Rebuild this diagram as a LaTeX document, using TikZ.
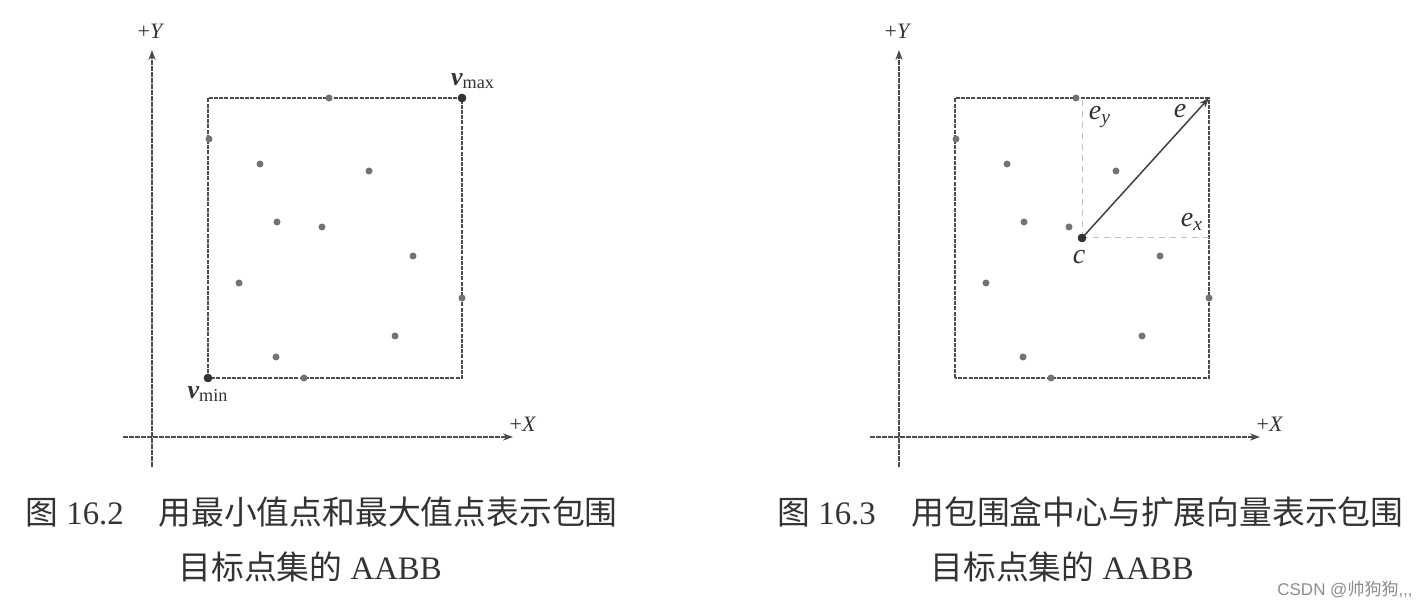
\documentclass[tikz,border=0pt]{standalone}
\usepackage{fontspec}
\setmainfont{Liberation Serif}
\newfontfamily\cjk{Noto Sans CJK SC}
\newfontfamily\marksans{Liberation Sans}
\usetikzlibrary{arrows.meta}
\begin{document}
\begin{tikzpicture}[x=0.5pt, y=0.5pt, >={Stealth[length=5pt, width=3.6pt]},
	dot/.style={circle, fill=black!55, inner sep=0pt, minimum size=3.5pt},
	corner/.style={circle, fill=black!80, inner sep=0pt, minimum size=4.2pt},
	axis/.style={draw=black!70, line width=0.65pt, dash pattern=on 2.5pt off 0.5pt, ->},
	box/.style={draw=black!70, line width=0.75pt, dash pattern=on 2pt off 0.6pt},
	helper/.style={draw=black!25, line width=0.5pt, dash pattern=on 3pt off 2.5pt},
	axlabel/.style={font=\fontsize{11}{11}\selectfont, text=black!80},
	veclabel/.style={font=\fontsize{14}{14}\selectfont\itshape, text=black!80},
	caption/.style={font=\fontsize{16.4}{16.4}\selectfont, text=black!80, anchor=base west, inner sep=0pt}]
	
	\useasboundingbox (0,0) rectangle (1427,608);
	
	% Left figure: min and max points
	\begin{scope}[shift={(152,171)}]
		\coordinate (xsL) at (-29,0);
		\coordinate (xeL) at (361,0);
		\coordinate (ysL) at (0,-30);
		\coordinate (yeL) at (0,387);
		\draw[axis] (xsL) -- (xeL);
		\draw[axis] (ysL) -- (yeL);
		\node[axlabel] (xlabL) at (371,13) {+\textit{X}};
		\node[axlabel] (ylabL) at (-1,406) {+\textit{Y}};
		
		% Bounding box
		\node[corner] (vmin) at (56,59) {};
		\node[corner] (vmax) at (310,339) {};
		\draw[box] (vmin.center) rectangle (vmax.center);
		
		% Point set
		\foreach \x/\y [count=\i] in {177/339, 57/298, 108/273, 217/266, 125/215, 170/210, 261/181, 87/154, 310/139, 243/101, 124/80, 152/59}
		\node[dot] (ptL\i) at (\x,\y) {};
		\node[corner] at (vmin) {};
		\node[corner] at (vmax) {};
		
		% Labels
		\node[font=\fontsize{13}{13}\selectfont, text=black!80] (vmaxlab) at (321,356) {\bfseries\itshape v\textsubscript{\normalfont max}};
		\node[font=\fontsize{13}{13}\selectfont, text=black!80] (vminlab) at (56,43) {\bfseries\itshape v\textsubscript{\normalfont min}};
	\end{scope}
	
	% Right figure: centre and extent vector
	\begin{scope}[shift={(899,171)}]
		\coordinate (xsR) at (-29,0);
		\coordinate (xeR) at (361,0);
		\coordinate (ysR) at (0,-30);
		\coordinate (yeR) at (0,387);
		\draw[axis] (xsR) -- (xeR);
		\draw[axis] (ysR) -- (yeR);
		\node[axlabel] (xlabR) at (371,13) {+\textit{X}};
		\node[axlabel] (ylabR) at (-1,406) {+\textit{Y}};
		
		% Bounding box
		\coordinate (bminR) at (56,59);
		\coordinate (bmaxR) at (310,339);
		\draw[box] (bminR) rectangle (bmaxR);
		
		% Extents
		\node[corner] (cR) at (183,199) {};
		\coordinate (eyR) at (183,339);
		\coordinate (exR) at (310,199);
		\draw[helper] (cR.center) -- (eyR);
		\draw[helper] (cR.center) -- (exR);
		\draw[->, draw=black!75, fill=black!75, line width=0.75pt] (cR.center) -- (bmaxR);
		
		% Point set
		\foreach \x/\y [count=\i] in {177/339, 57/298, 108/273, 217/266, 125/215, 170/210, 261/181, 87/154, 310/139, 243/101, 124/80, 152/59}
		\node[dot] (ptR\i) at (\x,\y) {};
		\node[corner] at (cR) {};
		
		% Labels
		\node[veclabel] (eylab) at (201,320) {e\textsubscript{y}};
		\node[veclabel] (elab) at (281,326) {e};
		\node[veclabel] (exlab) at (293,215) {e\textsubscript{x}};
		\node[veclabel] (clab) at (180,180) {c};
	\end{scope}
	
	% Captions
	\node[caption] (capL) at (25,83) {{\cjk 图} 16.2};
	\node[caption] (capLa) at (158,83) {\cjk 用最小值点和最大值点表示包围};
	\node[caption] (capLb) at (178,28) {{\cjk 目标点集的} AABB};
	\node[caption] (capR) at (777,83) {{\cjk 图} 16.3};
	\node[caption] (capRa) at (911,83) {\cjk 用包围盒中心与扩展向量表示包围};
	\node[caption] (capRb) at (930,28) {{\cjk 目标点集的} AABB};
	\node[font=\marksans\fontsize{8.5}{8.5}\selectfont, text=black!45] (mark) at (1345,18) {CSDN @{\cjk 帅狗狗},,,};
	
\end{tikzpicture}
\end{document}
